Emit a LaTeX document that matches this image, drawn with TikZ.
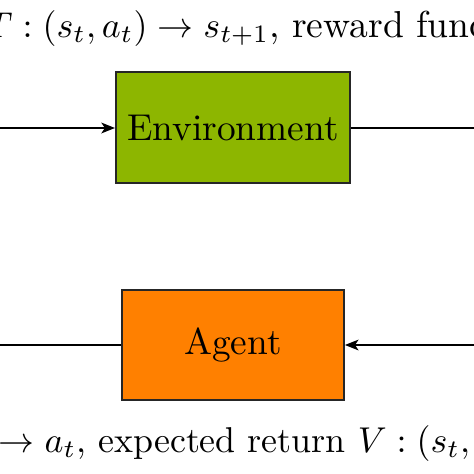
\documentclass[tikz,border=0pt]{standalone}
\usetikzlibrary{arrows.meta}
\definecolor{envgreen}{RGB}{141,182,0}
\definecolor{agentorange}{RGB}{255,128,0}
\begin{document}
\begin{tikzpicture}[x=0.2785pt,y=-0.2785pt,
  box/.style={draw=black!85, line width=0.55pt, inner sep=0pt, font=\fontsize{10.4}{12}\selectfont},
  conn/.style={line width=0.45pt},
  tipped/.style={conn, -{Stealth[length=3.8pt,width=3pt,inset=1pt]}},
  lbl/.style={anchor=base west, inner sep=0pt}]
\useasboundingbox (0,0) rectangle (474,474);
\clip (0,0) rectangle (474,474);
\fill[white] (0,0) rectangle (474,474);
\node[box, fill=envgreen, minimum width=65.2pt, minimum height=30.9pt] (env) at (233,127.5) {Environment};
\node[box, fill=agentorange, minimum width=61.8pt, minimum height=30.6pt] (agent) at (233,345) {Agent};
\coordinate (inL) at (-20,128);
\coordinate (outR) at (494,128);
\coordinate (inR) at (494,345);
\coordinate (outL) at (-20,345);
\draw[tipped] (inL) -- (env.west |- inL);
\draw[conn] (env.east |- outR) -- (outR);
\draw[tipped] (inR) -- (agent.east |- inR);
\draw[conn] (agent.west |- outL) -- (outL);
\node[lbl, font=\fontsize{10.45}{12}\selectfont] (toptext) at (-14,37) {$T:(s_t,a_t)\rightarrow s_{t+1}$, reward function $R$};
\node[lbl] (bottext) at (-93,452) {$\pi:s_t\rightarrow a_t$, expected return $V:(s_t,a_t)$};
\end{tikzpicture}
\end{document}
